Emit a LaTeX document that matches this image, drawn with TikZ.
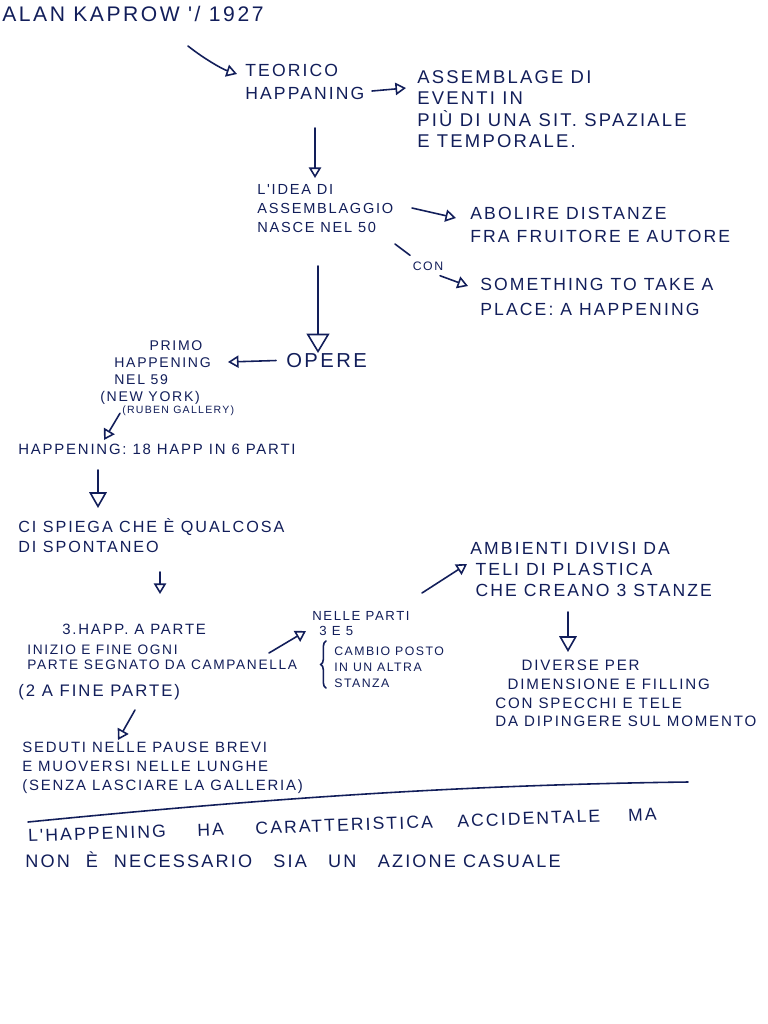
\documentclass[tikz,border=0pt]{standalone}
\usepackage{fontspec}
\newfontfamily\handfont[LetterSpace=12]{Liberation Sans}
\usetikzlibrary{arrows.meta, calc, decorations.pathreplacing}
\definecolor{ink}{RGB}{18,30,90}
\newcommand\handsize[2]{\handfont\fontsize{#1}{#2}\selectfont}
\tikzset{every node/.append style={align=left}}

\begin{document}
\begin{tikzpicture}[x=0.2mm, y=-0.2mm,
  hand/.style={text=ink, inner sep=0pt, anchor=north west},
  ink/.style={draw=ink, line width=0.9pt, line cap=round},
  arr/.style={ink, -{Triangle[open, length=6pt, width=7pt]}},
  midarr/.style={ink, -{Triangle[open, length=9pt, width=10pt]}},
  bigarr/.style={ink, -{Triangle[open, length=11pt, width=13pt]}}]
\useasboundingbox[fill=white] (0,0) rectangle (768,1024);

% ── top: Kaprow and the theory ───────────────────────────────────────────────
\node[hand, font=\handsize{12}{14}] (title) at (2,6) {ALAN KAPROW '/ 1927};
\node[hand, font=\handsize{10}{13}] (teor) at (245,64) {TEORICO\\HAPPANING};
\node[hand, font=\handsize{10.5}{12.2}] (assem) at (417,70)
      {ASSEMBLAGE DI\\EVENTI IN\\PIÙ DI UNA SIT. SPAZIALE\\E TEMPORALE.};
\node[hand, font=\handsize{8.3}{10.8}] (idea) at (257,184)
      {L'IDEA DI\\ASSEMBLAGGIO\\NASCE NEL 50};
\node[hand, font=\handsize{10}{13}] (abol) at (470,207)
      {ABOLIRE DISTANZE\\FRA FRUITORE E AUTORE};
\node[text=ink, inner sep=0pt, font=\handsize{7}{8}] (con) at (428,266) {CON};
\node[hand, font=\handsize{10}{14}] (some) at (480,278)
      {SOMETHING TO TAKE A\\PLACE: A HAPPENING};

\draw[arr] ($(title.north west)+(186,40)$) coordinate (k1)
      .. controls +(15,12) and +(-15,-5) .. ($(teor.north west)+(-8,10)$);
\draw[arr] ($(teor.north west)+(127,27)$) -- ($(assem.north west)+(-11,18)$);
\draw[arr] ($(teor.north west)+(70,64)$) -- ($(idea.north west)+(58,-6)$);
\draw[arr] ($(idea.north west)+(155,24)$) -- ($(abol.north west)+(-14,11)$);
\draw[ink] ($(idea.north west)+(138,60)$) -- ($(con.north)+(-18,-6)$);
\draw[arr] ($(con.south)+(12,5)$) -- ($(some.north west)+(-12,8)$);

% ── opere and first happening ────────────────────────────────────────────────
\node[hand, font=\handsize{11.5}{13}] (opere) at (286,353) {OPERE};
\node[hand, font=\handsize{8}{9.7}] (primo) at (100,340)
      {\hspace{28pt}PRIMO\\\hspace{8pt}HAPPENING\\\hspace{8pt}NEL 59\\(NEW YORK)};
\node[hand, font=\handsize{6}{7}] (ruben) at (122,405) {(RUBEN GALLERY)};
\node[hand, font=\handsize{8.5}{10}] (hap18) at (18,444)
      {HAPPENING: 18 HAPP IN 6 PARTI};
\node[hand, font=\handsize{9.2}{11.3}] (spieg) at (18,518)
      {CI SPIEGA CHE È QUALCOSA\\DI SPONTANEO};

\draw[bigarr] ($(idea.north west)+(61,82)$) -- ($(opere.north west)+(32,0)$);
\draw[arr] ($(opere.west)+(-10,0)$) -- ($(primo.north west)+(128,22)$);
\draw[arr] ($(ruben.west)+(-2,3)$) -- ($(hap18.north west)+(86,-4)$);
\draw[midarr] ($(hap18.north west)+(80,26)$) -- ($(spieg.north west)+(80,-10)$);

% ── the 18 happenings ────────────────────────────────────────────────────────
\node[hand, font=\handsize{8.5}{10}] (tre) at (62,624) {3.HAPP. A PARTE};
\node[hand, font=\handsize{7.8}{8.5}] (iniz) at (27,645)
      {INIZIO E FINE OGNI\\PARTE SEGNATO DA CAMPANELLA};
\node[hand, font=\handsize{9.5}{11}] (fine2) at (18,684) {(2 A FINE PARTE)};
\node[hand, font=\handsize{7.5}{8.5}] (nelle) at (312,611)
      {NELLE PARTI\\\hspace{4pt}3 E 5};
\node[hand, font=\handsize{7}{9}] (cambio) at (334,647)
      {CAMBIO POSTO\\IN UN ALTRA\\STANZA};
\node[hand, font=\handsize{10}{12}] (ambi) at (470,542)
      {AMBIENTI DIVISI DA\\\hspace{3pt}TELI DI PLASTICA\\\hspace{3pt}CHE CREANO 3 STANZE};
\node[hand, font=\handsize{8.6}{10.6}] (diver) at (495,660)
      {\hspace{15pt}DIVERSE PER\\\hspace{7pt}DIMENSIONE E FILLING\\CON SPECCHI E TELE\\DA DIPINGERE SUL MOMENTO};
\node[hand, font=\handsize{8.5}{10.8}] (sedut) at (22,742)
      {SEDUTI NELLE PAUSE BREVI\\E MUOVERSI NELLE LUNGHE\\(SENZA LASCIARE LA GALLERIA)};

\draw[arr] ($(spieg.north west)+(142,54)$) -- ($(tre.north west)+(98,-30)$);
\draw[arr] ($(iniz.north west)+(242,8)$) -- ($(nelle.north west)+(-6,20)$);
\draw[ink, decorate, decoration={brace, amplitude=3pt}]
      ($(cambio.south west)+(-8,0)$) -- ($(cambio.north west)+(-8,-6)$);
\draw[arr] ($(nelle.north west)+(110,-18)$) -- ($(ambi.north west)+(-3,22)$);
\draw[midarr] ($(ambi.north west)+(98,70)$) -- ($(diver.north west)+(73,-8)$);
\draw[arr] ($(fine2.north west)+(117,26)$) -- ($(sedut.north west)+(96,-2)$);

% ── conclusion ───────────────────────────────────────────────────────────────
\draw[ink] (28,822) .. controls (250,800) and (450,785) .. (688,782);
\node[text=ink, inner sep=0pt, anchor=base west, rotate=2, font=\handsize{10}{12}]
      (concl) at (28,842)
      {L'HAPPENING\hspace{18pt}HA\hspace{18pt}CARATTERISTICA\hspace{14pt}ACCIDENTALE\hspace{16pt}MA};
\node[text=ink, inner sep=0pt, anchor=base west, font=\handsize{10.3}{12}]
      (casual) at (25,867)
      {NON\hspace{5pt} È\hspace{5pt} NECESSARIO\hspace{8pt} SIA\hspace{8pt} UN\hspace{8pt} AZIONE CASUALE};

\end{tikzpicture}
\end{document}
